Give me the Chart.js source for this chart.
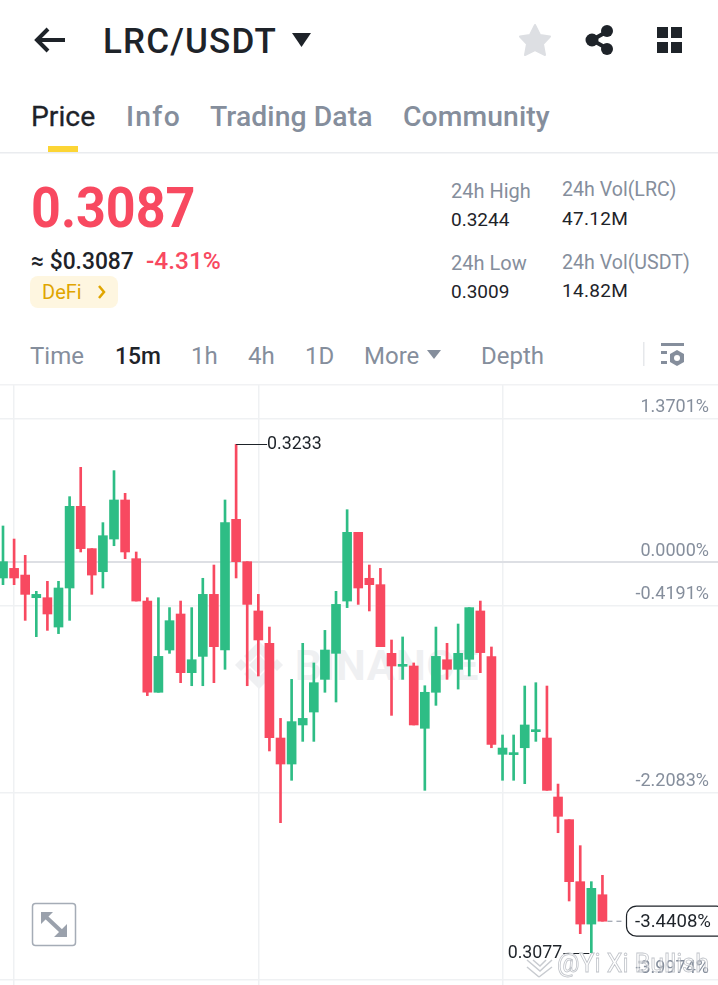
<!DOCTYPE html>
<html><head><meta charset="utf-8">
<style>
html,body{margin:0;padding:0;background:#fff;}
#app{position:relative;width:718px;height:985px;overflow:hidden;font-family:Roboto,sans-serif;color:#1E2329;}
.t{position:absolute;white-space:nowrap;line-height:1;transform-origin:left center;}
.g{color:#858E9C;}
svg{position:absolute;overflow:visible;}
canvas{position:absolute;left:0;top:385px;}
</style></head><body>
<div id="app">
<svg style="left:0;top:0" width="718" height="385">
  <path d="M65 40H38M48 29L37 40L48 51" fill="none" stroke="#1E2329" stroke-width="4"/>
  <path d="M292 33H311L301.5 47Z" fill="#1E2329"/>
  <path d="M535 25L540 35L550 36.5L543 44L545 55L535 50L525 55L527 44L520 36.5L530 35Z" fill="#DDDFE3" stroke="#DDDFE3" stroke-linejoin="round" stroke-width="2"/>
  <path d="M608 31L592 40L608 49" fill="none" stroke="#1E2329" stroke-width="4"/>
  <circle cx="607" cy="31" r="6" fill="#1E2329"/><circle cx="592" cy="40" r="6.5" fill="#1E2329"/><circle cx="607" cy="49" r="6" fill="#1E2329"/>
  <rect x="657" y="27" width="11" height="11" fill="#1E2329"/><rect x="671" y="27" width="11" height="11" fill="#1E2329"/>
  <rect x="657" y="42" width="11" height="11" fill="#1E2329"/><rect x="671" y="42" width="11" height="11" fill="#1E2329"/>
  <rect x="48" y="146" width="30" height="6" fill="#FCD535"/>
  <rect x="0" y="152" width="718" height="1.5" fill="#EAECEF"/>
  <rect x="30" y="276" width="88" height="32" rx="8" fill="#FEF6E0"/>
  <path d="M99 286L104 292L99 298" fill="none" stroke="#E0A500" stroke-width="2.5"/>
  <path d="M427 350H441L434 359Z" fill="#858E9C"/>
  <rect x="643" y="342" width="1.5" height="24" fill="#E6E8EB"/>
  <rect x="661" y="343" width="23" height="3" fill="#858E9C"/><rect x="661" y="351" width="6" height="3" fill="#858E9C"/><rect x="661" y="361" width="6" height="3" fill="#858E9C"/>
  <path d="M677 350L684 354V362L677 366L670 362V354Z" fill="#858E9C"/><circle cx="677" cy="358" r="3" fill="#fff"/>
  <rect x="0" y="384" width="718" height="1.5" fill="#F1F2F4"/>
</svg>
<div class="t" style="left:103px;top:24px;font-size:35px;font-weight:500;letter-spacing:1.15px">LRC/USDT</div>
<div class="t" style="left:31px;top:103px;font-size:28.3px;font-weight:400;-webkit-text-stroke:.3px #1E2329">Price</div>
<div class="t g" style="left:126px;top:103px;font-size:28.3px;font-weight:500;letter-spacing:1.3px">Info</div>
<div class="t g" style="left:210px;top:103px;font-size:28.3px;font-weight:500;letter-spacing:.1px">Trading Data</div>
<div class="t g" style="left:403px;top:103px;font-size:28.3px;font-weight:500;letter-spacing:.1px">Community</div>
<div class="t" style="left:31px;top:180px;font-size:56px;font-weight:700;color:#F84960;transform:scaleX(.93)">0.3087</div>
<div class="t" style="left:31px;top:249px;font-size:24px;font-weight:500;transform:scaleX(.95)">≈ $0.3087</div>
<div class="t" style="left:146px;top:249px;font-size:24px;font-weight:500;color:#F84960;transform:scaleX(1.02)">-4.31%</div>
<div class="t" style="left:42px;top:282px;font-size:20px;color:#E0A500">DeFi</div>
<div class="t g" style="left:451px;top:181px;font-size:20px">24h High</div>
<div class="t" style="left:451px;top:210px;font-size:19px">0.3244</div>
<div class="t g" style="left:562px;top:180px;font-size:19.6px">24h Vol(LRC)</div>
<div class="t" style="left:562px;top:209px;font-size:19px;letter-spacing:.3px">47.12M</div>
<div class="t g" style="left:451px;top:253px;font-size:20px">24h Low</div>
<div class="t" style="left:451px;top:282px;font-size:19px">0.3009</div>
<div class="t g" style="left:562px;top:253px;font-size:19.6px">24h Vol(USDT)</div>
<div class="t" style="left:562px;top:281px;font-size:19px;letter-spacing:.3px">14.82M</div>
<div class="t g" style="left:30px;top:344px;font-size:24px">Time</div>
<div class="t" style="left:115px;top:344px;font-size:24px;font-weight:500;transform:scaleX(.95)">15m</div>
<div class="t g" style="left:191px;top:344px;font-size:24px">1h</div>
<div class="t g" style="left:248px;top:344px;font-size:24px">4h</div>
<div class="t g" style="left:305px;top:344px;font-size:24px">1D</div>
<div class="t g" style="left:364px;top:344px;font-size:24px">More</div>
<div class="t g" style="left:481px;top:344px;font-size:24px">Depth</div>
<svg style="left:0;top:0" width="718" height="985">
  <g fill="#EFF0F2">
    <path d="M259 655L269 665L259 675L249 665Z"/>
    <path d="M259 641L274 656L268 662L259 653L250 662L244 656Z"/>
    <path d="M259 689L274 674L268 668L259 677L250 668L244 674Z"/>
    <path d="M235 665L241 659L247 665L241 671Z"/>
    <path d="M283 665L277 659L271 665L277 671Z"/>
  </g>
</svg>
<div class="t" style="left:295px;top:645px;font-size:42px;font-weight:700;letter-spacing:.9px;color:#EFF0F2">BINANCE</div>
<canvas id="chart" width="718" height="600"></canvas>
<svg style="left:0;top:0" width="718" height="985">
  <rect x="32.5" y="903.5" width="43" height="42" rx="3" fill="#fff" stroke="#A5ACB6" stroke-width="1.5"/>
  <path d="M41 912H53L41 924ZM67 937H54L67 924Z" fill="#9AA1AC"/>
  <path d="M46 917L62 932" stroke="#9AA1AC" stroke-width="4"/>
  <path d="M527 960L540 971L552 960M533 960L540 966L546 960M539 977L527 967M539 977L552 967" fill="none" stroke="#C8CBD0" stroke-width="1.5"/>
</svg>
<div class="t" style="left:557px;top:951px;font-size:25px;color:rgba(255,255,255,.55);-webkit-text-stroke:.8px rgba(150,155,165,.6)">@Yi Xi Bullish</div>
</div>
<script src="https://cdn.jsdelivr.net/npm/chart.js@4"></script>
<script>
const opens=[-0.153,-0.061,-0.125,-0.342,-0.342,-0.623,-0.249,0.533,0.128,-0.093,0.220,0.594,0.032,-0.374,-1.248,-0.843,-0.498,-1.060,-0.904,-0.310,-0.843,0.409,0.003,-0.469,-0.779,-1.686,-1.935,-1.561,-1.437,-1.124,-0.875,-0.374,0.284,-0.156,-0.217,-0.875,-0.996,-0.996,-1.593,-1.248,-0.936,-1.028,-0.932,-0.469,-0.907,-1.842,-1.839,-1.779,-1.619,-1.686,-2.251,-2.468,-3.062,-3.468,-3.187];
const closes=[0.003,-0.153,-0.310,-0.310,-0.498,-0.249,0.533,0.128,-0.125,0.252,0.594,0.096,-0.374,-1.248,-0.904,-0.562,-1.060,-0.936,-0.310,-0.811,0.377,0.003,-0.406,-0.747,-1.683,-1.935,-1.529,-1.498,-1.156,-0.843,-0.406,0.284,-0.249,-0.217,-0.811,-0.996,-0.980,-1.561,-1.248,-0.904,-1.028,-0.875,-0.437,-0.868,-1.747,-1.782,-1.826,-1.561,-1.606,-2.187,-2.436,-3.062,-3.468,-3.126,-3.4408];
const highs=[0.345,0.220,0.064,-0.281,-0.185,-0.185,0.626,0.907,0.128,0.377,0.875,0.658,0.096,-0.342,-0.342,-0.437,-0.374,-0.437,-0.156,-0.029,0.594,1.127,0.003,-0.310,-0.623,-1.498,-1.124,-0.779,-0.967,-0.655,-0.281,0.501,0.284,-0.029,-0.061,-0.747,-0.718,-0.967,-1.185,-0.623,-0.779,-0.594,-0.437,-0.374,-0.814,-1.657,-1.657,-1.188,-1.156,-1.188,-2.127,-2.468,-2.717,-3.062,-3.001];
const lows=[-0.217,-0.217,-0.559,-0.715,-0.655,-0.686,-0.559,0.096,-0.310,-0.249,0.156,0.032,-0.374,-1.280,-1.248,-0.875,-1.156,-1.185,-1.185,-1.156,-1.028,-0.153,-1.185,-1.092,-1.810,-2.497,-2.091,-1.718,-1.718,-1.248,-1.341,-0.437,-0.406,-0.469,-0.811,-1.469,-1.124,-1.561,-2.187,-1.373,-1.124,-1.217,-1.092,-1.060,-1.779,-2.091,-2.091,-2.123,-1.718,-2.187,-2.593,-3.247,-3.560,-3.742,-3.4408];
const percentTicks=[1.3701,0,-0.4191,-2.2083,-3.9974];
const gridCandles=[1,23,45];
const highLabel='0.3233', lowLabel='0.3077', lastLabel='-3.4408%';
const UP='#2EBD85', DOWN='#F84960';
const up=opens.map((o,i)=>closes[i]>=o);
const colors=up.map(u=>u?UP:DOWN);

const annotations={id:'annotations',afterDatasetsDraw(c){
  const x=c.scales.x,y=c.scales.y,g=c.ctx;
  const hi=highs.indexOf(Math.max(...highs)), lo=lows.indexOf(Math.min(...lows)), n=closes.length-1;
  g.save();
  g.font='17.8px Roboto'; g.textBaseline='middle'; g.strokeStyle='#1E2329'; g.fillStyle='#1E2329'; g.lineWidth=1;
  const hx=x.getPixelForValue(hi),hy=Math.round(y.getPixelForValue(highs[hi]))+.5;
  g.beginPath();g.moveTo(hx,hy);g.lineTo(hx+31,hy);g.stroke();
  g.textAlign='left';g.fillText(highLabel,hx+31,hy);
  const lx=x.getPixelForValue(lo),ly=Math.round(y.getPixelForValue(lows[lo]))+.5;
  g.setLineDash([6,4]);g.beginPath();g.moveTo(lx-2,ly);g.lineTo(lx-28,ly);g.stroke();
  g.setLineDash([]);g.textAlign='right';g.fillText(lowLabel,lx-29,ly);
  const cx=x.getPixelForValue(n),cy=y.getPixelForValue(closes[n]);
  g.strokeStyle='#858E9C';g.setLineDash([5,4]);g.beginPath();g.moveTo(cx+5,cy);g.lineTo(cx+22,cy);g.stroke();g.setLineDash([]);
  g.strokeStyle='#1E2329';g.lineWidth=1.2;g.fillStyle='#fff';
  g.beginPath();g.roundRect(626.5,cy-15,100,30,10);g.fill();g.stroke();
  g.font='18.6px Roboto';g.fillStyle='#1E2329';g.textAlign='center';g.fillText(lastLabel,673,cy+1);
  g.restore();
}};

new Chart(document.getElementById('chart'),{
  type:'bar',
  data:{datasets:[
    {data:highs.map((h,i)=>({x:i,y:[lows[i],h]})),backgroundColor:colors,barThickness:2,grouped:false,order:2},
    {data:opens.map((o,i)=>({x:i,y:[o,closes[i]]})),backgroundColor:colors,barThickness:9,minBarLength:2,grouped:false,order:1}
  ]},
  options:{
    responsive:false,animation:false,
    events:[],
    layout:{padding:0},
    plugins:{legend:{display:false},tooltip:{enabled:false}},
    scales:{
      x:{type:'linear',offset:false,min:-0.27,max:64.41,
        grid:{offset:false,color:'#EFF1F3',lineWidth:1.5,drawTicks:false},
        border:{display:false},ticks:{display:false},
        afterBuildTicks(s){s.ticks=gridCandles.map(v=>({value:v}));},
        afterFit(s){s.height=0;s.paddingLeft=s.paddingRight=s.paddingTop=s.paddingBottom=0;}},
      y:{type:'linear',position:'right',min:-4.0517,max:1.6954,
        grid:{drawTicks:false,
          color:c=>c.tick&&c.tick.value===0?'#DDDFE4':'#EFF1F3',
          lineWidth:c=>c.tick&&c.tick.value===0?2:1.5},
        border:{display:false},
        ticks:{mirror:true,padding:-9,labelOffset:-11,color:'#858E9C',font:{family:'Roboto',size:18},
          callback:v=>v.toFixed(4)+'%'},
        afterBuildTicks(s){s.ticks=percentTicks.map(v=>({value:v}));},
        afterFit(s){s.width=0;s.paddingLeft=s.paddingRight=s.paddingTop=s.paddingBottom=0;}}
    }
  },
  plugins:[annotations]
});
</script>
</body></html>
